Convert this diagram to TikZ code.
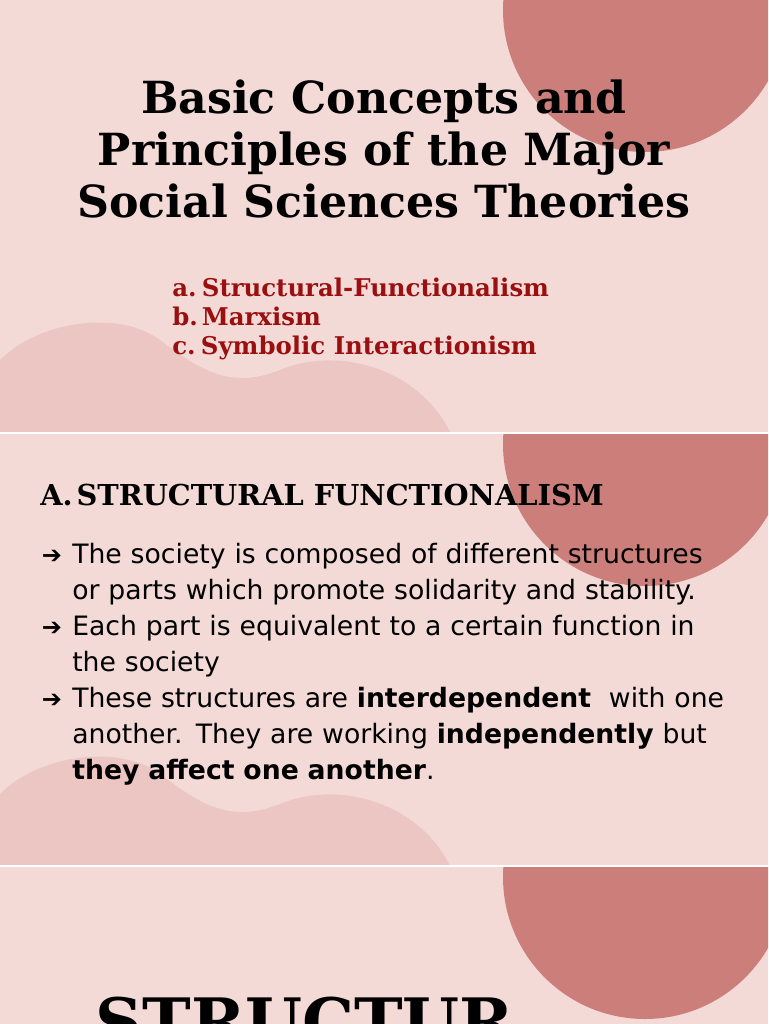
\documentclass[tikz,border=0pt]{standalone}
\usepackage{fontspec}
\setmainfont{DejaVu Serif}
\newfontfamily\bodyfont{DejaVu Sans}
\begin{document}
\begin{tikzpicture}[x=0.75pt,y=-0.75pt,
  title/.style={font=\fontsize{33.2}{39}\selectfont\bfseries,align=center},
  item/.style={font=\fontsize{18.3}{22}\selectfont\bfseries,text=darkred,anchor=base west,inner sep=0},
  body/.style={font=\bodyfont\fontsize{20}{27}\selectfont,anchor=north west,inner sep=0,align=left,text width=560pt}]
\definecolor{pinkbg}{HTML}{F3DAD7}
\definecolor{blob}{HTML}{ECC6C3}
\definecolor{circ}{HTML}{CC7E7A}
\definecolor{darkred}{HTML}{9A1010}
\useasboundingbox (0,0) rectangle (768,1024);
\foreach \y/\h in {0/432,434/431,867/157}{
  \begin{scope}
  \clip (0,\y) rectangle (768,\y+\h);
  \fill[pinkbg] (0,\y) rectangle (768,\y+\h);
  \fill[blob] (0,\y+432) -- (0,\y+360) .. controls (40,\y+320) and (120,\y+310) .. (160,\y+340)
     .. controls (200,\y+370) and (230,\y+390) .. (280,\y+370)
     .. controls (340,\y+345) and (420,\y+370) .. (450,\y+432) -- cycle;
  \fill[circ] (645,\y+10) circle (142);
  \end{scope}
}
\fill[white] (0,432) rectangle (768,434);
\fill[white] (0,865) rectangle (768,867);
\node[title] (t) at (384,149) {Basic Concepts and\\Principles of the Major\\Social Sciences Theories};
\node[item] (a) at (172,296) {a.\hspace{4pt}Structural-Functionalism};
\node[item] (b) at (172,325) {b.\hspace{3pt}Marxism};
\node[item] (c) at (172,354) {c.\hspace{4pt}Symbolic Interactionism};
\node[anchor=west,inner sep=0,font=\fontsize{21.6}{24}\selectfont\bfseries] (h) at (40,495) {A.\hspace{3pt}STRUCTURAL FUNCTIONALISM};
\node[body] (p1) at (72,543) {The society is composed of different structures\\or parts which promote solidarity and stability.};
\node[body] (p2) at (72,615) {Each part is equivalent to a certain function in\\the society};
\node[body] (p3) at (72,687) {These structures are \textbf{interdependent}\ \ with one\\another. They are working \textbf{independently} but\\\textbf{they affect one another}.};
\foreach \yy/\n in {557/r1,629/r2,701/r3}
  \node[inner sep=0,font=\bodyfont\fontsize{18}{18}\selectfont] (\n) at (52,\yy) {➔};
\node[anchor=base west,inner sep=0,font=\fontsize{49}{50}\selectfont\bfseries] (s) at (95,1045) {STRUCTUR};
\end{tikzpicture}
\end{document}
